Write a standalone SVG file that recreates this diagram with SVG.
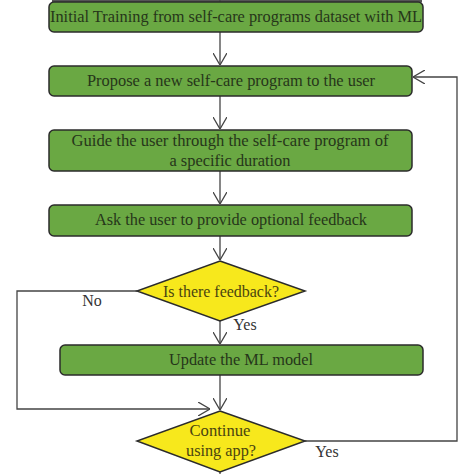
<svg xmlns="http://www.w3.org/2000/svg" width="474" height="474" viewBox="0 0 474 474">
<style>
.box{fill:#6aa843;stroke:#2b2b2b;stroke-width:1.5}
.dia{fill:#f7e81c;stroke:#2b2b2b;stroke-width:1.5}
.t{font-family:"Liberation Serif",serif;font-size:17px;fill:#26361a;text-anchor:middle}
.ty{font-family:"Liberation Serif",serif;font-size:17px;fill:#4a4410;text-anchor:middle}
.lbl{font-family:"Liberation Serif",serif;font-size:16px;fill:#333;text-anchor:middle}
.c{fill:none;stroke:#444;stroke-width:1.3}
</style>
<defs>
<marker id="ah" viewBox="0 0 12 14" refX="12" refY="7" markerWidth="12" markerHeight="14" markerUnits="userSpaceOnUse" orient="auto">
<path d="M0,0 L12,7 L0,14" fill="none" stroke="#444" stroke-width="1.3"/>
</marker>
</defs>
<rect width="474" height="474" fill="#fff"/>
<rect x="52" y="0" width="370" height="2.5" fill="#555"/>
<g id="connectors">
<line class="c" x1="220" y1="0" x2="220" y2="3"/>
<line class="c" x1="220" y1="32" x2="220" y2="65" marker-end="url(#ah)"/>
<line class="c" x1="220" y1="96" x2="220" y2="129" marker-end="url(#ah)"/>
<line class="c" x1="220" y1="171" x2="220" y2="204" marker-end="url(#ah)"/>
<line class="c" x1="220" y1="236" x2="220" y2="260" marker-end="url(#ah)"/>
<line class="c" x1="220" y1="321" x2="220" y2="344" marker-end="url(#ah)"/>
<line class="c" x1="220" y1="375" x2="220" y2="410" marker-end="url(#ah)"/>
<polyline class="c" points="137,291 17,291 17,409 210,409" marker-end="url(#ah)"/>
<polyline class="c" points="305,441 457,441 457,77 413,77" marker-end="url(#ah)"/>
<line class="c" x1="220" y1="472" x2="220" y2="474"/>
<text class="lbl" x="92" y="306">No</text>
<text class="lbl" x="245" y="330">Yes</text>
<text class="lbl" x="327" y="457">Yes</text>
</g>
<g id="n1">
<rect class="box" x="49" y="2" width="374" height="30" rx="5"/>
<text class="t" x="236" y="22" textLength="372" lengthAdjust="spacingAndGlyphs">Initial Training from self-care programs dataset with ML</text>
</g>
<g id="n2">
<rect class="box" x="49" y="66" width="363" height="30" rx="5"/>
<text class="t" x="231" y="86" textLength="288" lengthAdjust="spacingAndGlyphs">Propose a new self-care program to the user</text>
</g>
<g id="n3">
<rect class="box" x="49" y="130" width="363" height="41" rx="5"/>
<text class="t" x="230" y="146" textLength="317" lengthAdjust="spacingAndGlyphs">Guide the user through the self-care program of</text>
<text class="t" x="230" y="166" textLength="121" lengthAdjust="spacingAndGlyphs">a specific duration</text>
</g>
<g id="n4">
<rect class="box" x="49" y="205" width="363" height="31" rx="5"/>
<text class="t" x="231" y="225" textLength="272" lengthAdjust="spacingAndGlyphs">Ask the user to provide optional feedback</text>
</g>
<g id="d1">
<polygon class="dia" points="220,261 305,291 220,321 137,291"/>
<text class="ty" x="221" y="297" textLength="116" lengthAdjust="spacingAndGlyphs">Is there feedback?</text>
</g>
<g id="n5">
<rect class="box" x="60" y="345" width="363" height="30" rx="5"/>
<text class="t" x="241" y="365" textLength="144" lengthAdjust="spacingAndGlyphs">Update the ML model</text>
</g>
<g id="d2">
<polygon class="dia" points="220,411 305,441 220,472 137,441"/>
<text class="ty" x="220" y="436" textLength="61" lengthAdjust="spacingAndGlyphs">Continue</text>
<text class="ty" x="221" y="456" textLength="70" lengthAdjust="spacingAndGlyphs">using app?</text>
</g>
</svg>
